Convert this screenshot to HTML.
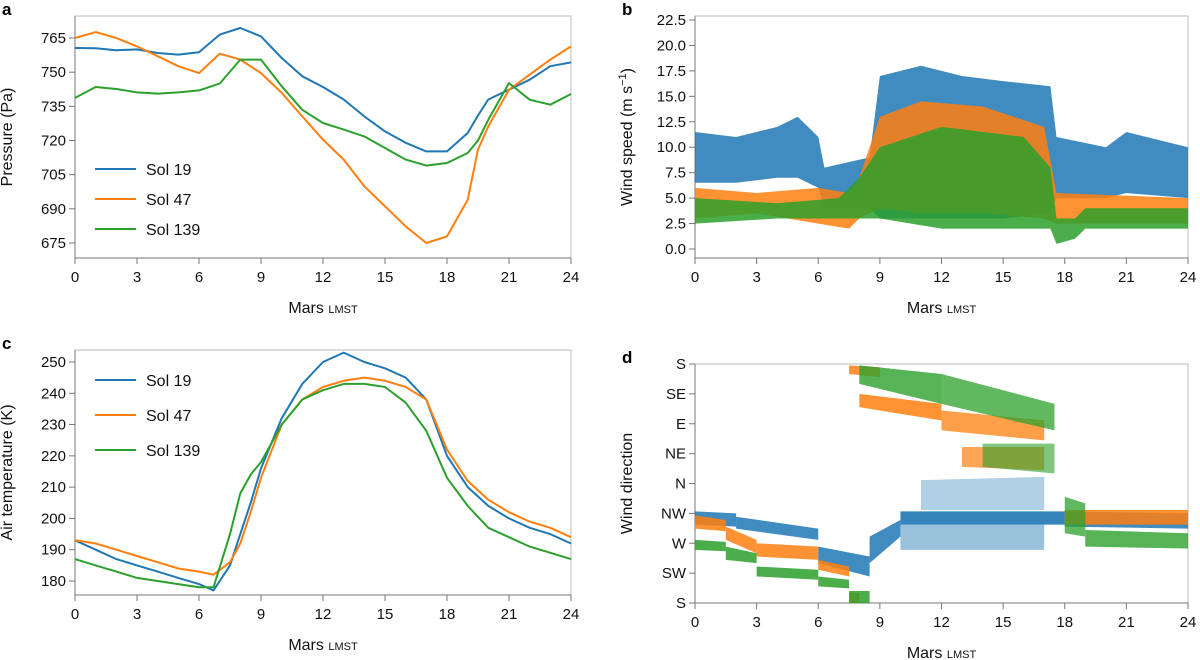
<!DOCTYPE html>
<html><head><meta charset="utf-8"><style>
body{margin:0;background:#fff;}
svg{display:block;font-family:"Liberation Sans",sans-serif;}
</style></head><body>
<svg id="fig" width="1200" height="660" viewBox="0 0 1200 660"></svg>
<script>
// ---------- Data ----------
const hoursA = [0,1,2,3,4,5,6,7,8,9,10,11,12,13,14,15,16,17,18,19,19.5,20,21,22,23,24];
const pSol19 = [760.6,760.5,759.6,760,758.4,757.7,758.7,766.5,769.4,765.7,756.2,748.2,743.5,738,730.6,724,719,715.2,715.2,723.3,731,738,742.3,746.7,752.6,754.3];
const pSol47 = [765,767.6,765,761.3,757,752.6,749.6,758.1,755.5,749.6,740.9,730.6,720.4,711.6,699.9,691.1,682.3,675,677.9,694,716,726.2,742.3,748.9,755.5,761.3];
const pSol139 = [738.7,743.5,742.6,741.1,740.6,741.1,742,745,755.5,755.5,743.8,733.5,727.7,724.8,721.8,716.7,711.6,709,710.1,714.5,720,729.1,745.2,737.9,735.7,740.4];
const pTicks = [675,690,705,720,735,750,765];

const hoursC = [0,1,2,3,4,5,6,6.7,7.5,8,8.5,9,10,11,12,13,14,15,16,17,18,19,20,21,22,23,24];
const tSol19 = [193,190,187,185,183,181,179,177,185,195,205,216,232,243,250,253,250,248,245,238,220,210,204,200,197,195,192];
const tSol47 = [193,192,190,188,186,184,183,182,186,192,202,213,230,238,242,244,245,244,242,238,222,212,206,202,199,197,194];
const tSol139 = [187,185,183,181,180,179,178,178,195,208,214,218,230,238,241,243,243,242,237,228,213,204,197,194,191,189,187];
const tTicks = [180,190,200,210,220,230,240,250];

// wind speed bands: [hour, low, high]
const wsBlue = [[0,6.5,11.5],[2,6.5,11],[4,7,12],[5,7,13],[6,6,11],[6.3,4,8],[8.5,4,9],[9,3,17],[11,3,18],[13,3,17],[15,3,16.5],[17.3,3.5,16],[17.6,5,11],[20,5,10],[21,5.5,11.5],[24,5,10]];
const wsOrange = [[0,3,6],[3,3.5,5.5],[6,2.5,6],[7.5,2,5.5],[8,3,7],[9,4,13],[11,3.5,14.5],[14,3.5,14],[17,3,12],[17.6,2.5,5.5],[24,2.5,5]];
const wsGreen = [[0,2.5,5],[4,3,4.5],[7,3,5],[8,3,7],[9,3,10],[12,2,12],[16,2,11],[17.3,2,8],[17.6,0.5,3],[18.5,1,3],[19,2,4],[24,2,4]];
const wsTicks = [0,2.5,5,7.5,10,12.5,15,17.5,20,22.5];

// wind direction bands (degrees: S=180 top ... N=0 ... S=-180 bottom): [t0,t1,top0,bot0,top1,bot1,opacity]
const wdBlue = [[0,2,-42,-62,-45,-65,0.85],[2,6,-50,-68,-68,-85,0.85],[6,8.5,-95,-120,-110,-140,0.85],[8.5,10,-80,-120,-55,-80,0.85],[10,18,-42,-62,-42,-62,0.9],[11,17,5,-40,10,-40,0.35],[10,17,-62,-100,-62,-100,0.45],[18,24,-42,-65,-45,-68,0.85]];
const wdOrange = [[0,1.5,-48,-68,-55,-72,0.85],[1.5,3,-65,-85,-85,-105,0.85],[3,6,-90,-110,-95,-115,0.85],[6,7.5,-115,-130,-125,-140,0.85],[7.5,8,-165,-180,-165,-180,0.85],[7.5,9,178,165,175,160,0.85],[8,12,135,115,120,95,0.85],[12,17,110,80,95,65,0.75],[13,17,55,25,55,20,0.7],[18,24,-40,-62,-40,-62,0.85]];
const wdGreen = [[0,1.5,-85,-100,-88,-102,0.85],[1.5,3,-95,-115,-105,-120,0.85],[3,6,-125,-140,-130,-145,0.85],[6,7.5,-140,-155,-145,-158,0.85],[7.5,8.5,-162,-180,-162,-180,0.85],[8,12,178,150,165,120,0.8],[12,17.5,165,120,120,80,0.75],[14,17.5,60,25,60,15,0.6],[18,19,-20,-75,-30,-80,0.75],[19,24,-70,-95,-75,-98,0.8]];
const wdLabels = ["S","SE","E","NE","N","NW","W","SW","S"];
const wdVals = [180,135,90,45,0,-45,-90,-135,-180];

const xTicks = [0,3,6,9,12,15,18,21,24];
const C = {blue:"#1f77b4",orange:"#ff7f0e",green:"#2ca02c"};

// ---------- Helpers ----------
const svg = document.getElementById('fig');
const NS = "http://www.w3.org/2000/svg";
function mk(tag, attrs, parent){ const e=document.createElementNS(NS,tag); for(const k in attrs) e.setAttribute(k,attrs[k]); (parent||svg).appendChild(e); return e; }
function lin(d0,d1,r0,r1){ return v => r0 + (v-d0)/(d1-d0)*(r1-r0); }

function panel(name, letter, box, xs, ys, yTicks, yLabels, yTitle){
  const g = mk('g',{});
  
  
  const fr = mk('rect',{x:box.x0,y:box.top,width:box.x1-box.x0,height:box.bot-box.top,fill:'none',stroke:'#bbb','stroke-width':1},g);
  
  
  mk('line',{x1:box.x0,y1:box.top,x2:box.x0,y2:box.bot,stroke:'#777'},g);
  mk('line',{x1:box.x0,y1:box.bot,x2:box.x1,y2:box.bot,stroke:'#777'},g);
  const L = mk('text',{x:box.x0-73,y:box.top-1,'font-size':17,'font-weight':'bold'},g);
  L.textContent = letter;
  
  
  xTicks.forEach(t=>{
    const x = xs(t);
    mk('line',{x1:x,y1:box.bot,x2:x,y2:box.bot+6,stroke:'#777'},g);
    const tx = mk('text',{x:x,y:box.bot+24,'font-size':15,'text-anchor':'middle',fill:'#111'},g);
    tx.textContent = t;
    
    
  });
  yTicks.forEach((t,i)=>{
    const y = ys(t);
    mk('line',{x1:box.x0-6,y1:y,x2:box.x0,y2:y,stroke:'#777'},g);
    const ty = mk('text',{x:box.x0-9,y:y+5,'font-size':15,'text-anchor':'end',fill:'#111'},g);
    ty.textContent = yLabels ? yLabels[i] : t;
    
    
  });
  const xt = mk('text',{x:(box.x0+box.x1)/2,y:box.bot+55,'font-size':16,'text-anchor':'middle',fill:'#111'},g);
  xt.innerHTML = 'Mars <tspan font-size="11">LMST</tspan>';
  
  
  const yy = (box.top+box.bot)/2;
  const yt = mk('text',{x:0,y:0,'font-size':16,'text-anchor':'middle',fill:'#111',transform:`translate(${box.x0-63},${yy}) rotate(-90)`},g);
  yt.innerHTML = yTitle;
  
  
  return g;
}
function line(g, xsArr, vals, xs, ys, color, name){
  const d = vals.map((v,i)=>(i?'L':'M')+xs(xsArr[i]).toFixed(1)+','+ys(v).toFixed(1)).join('');
  const p = mk('path',{d:d,fill:'none',stroke:color,'stroke-width':2,'stroke-linejoin':'round'},g);
  
  
}
function legend(g, x, y0, dy){
  [['Sol 19',C.blue],['Sol 47',C.orange],['Sol 139',C.green]].forEach((s,i)=>{
    const y = y0+i*dy;
    const ln = mk('line',{x1:x,y1:y,x2:x+41,y2:y,stroke:s[1],'stroke-width':2},g);
    
    
    const t = mk('text',{x:x+51,y:y+6,'font-size':16,fill:'#111'},g);
    t.textContent = s[0];
    
    
  });
}

// ---------- Panel a ----------
{
  const box={x0:75,x1:571,top:16,bot:258};
  const xs=lin(0,24,box.x0,box.x1), ys=lin(765,675,38,243);
  const g=panel('pressure-panel','a',box,xs,ys,pTicks,null,'Pressure (Pa)');
  line(g,hoursA,pSol19,xs,ys,C.blue,'pressure-sol19-line');
  line(g,hoursA,pSol47,xs,ys,C.orange,'pressure-sol47-line');
  line(g,hoursA,pSol139,xs,ys,C.green,'pressure-sol139-line');
  legend(g,95,169,30);
}
// ---------- Panel b ----------
{
  const box={x0:695,x1:1188,top:16,bot:258};
  const xs=lin(0,24,box.x0,box.x1), ys=lin(0,22.5,249,20);
  const g=panel('wind-speed-panel','b',box,xs,ys,wsTicks,wsTicks.map(v=>v.toFixed(1)),'Wind speed (m s<tspan baseline-shift="super" font-size="11">−1</tspan>)');
  [[wsBlue,C.blue,'wind-speed-sol19'],[wsOrange,C.orange,'wind-speed-sol47'],[wsGreen,C.green,'wind-speed-sol139']].forEach(s=>{
    const arr=s[0];
    const top=arr.map((r,i)=>(i?'L':'M')+xs(r[0]).toFixed(1)+','+ys(r[2]).toFixed(1)).join('');
    const bot=arr.slice().reverse().map(r=>'L'+xs(r[0]).toFixed(1)+','+ys(r[1]).toFixed(1)).join('');
    const p=mk('path',{d:top+bot+'Z',fill:s[1],'fill-opacity':0.85},g);
    
    
  });
}
// ---------- Panel c ----------
{
  const box={x0:75,x1:571,top:350,bot:595};
  const xs=lin(0,24,box.x0,box.x1), ys=lin(250,180,362,581);
  const g=panel('air-temperature-panel','c',box,xs,ys,tTicks,null,'Air temperature (K)');
  line(g,hoursC,tSol19,xs,ys,C.blue,'temperature-sol19-line');
  line(g,hoursC,tSol47,xs,ys,C.orange,'temperature-sol47-line');
  line(g,hoursC,tSol139,xs,ys,C.green,'temperature-sol139-line');
  legend(g,95,380,35);
}
// ---------- Panel d ----------
{
  const box={x0:695,x1:1188,top:364,bot:603};
  const xs=lin(0,24,box.x0,box.x1), ys=lin(180,-180,364,603);
  const g=panel('wind-direction-panel','d',box,xs,ys,wdVals,wdLabels,'Wind direction');
  [[wdBlue,C.blue,'wind-direction-sol19'],[wdOrange,C.orange,'wind-direction-sol47'],[wdGreen,C.green,'wind-direction-sol139']].forEach(s=>{
    s[0].forEach(r=>{
      const d=`M${xs(r[0])},${ys(r[2])}L${xs(r[1])},${ys(r[4])}L${xs(r[1])},${ys(r[5])}L${xs(r[0])},${ys(r[3])}Z`;
      const p=mk('path',{d:d,fill:s[1],'fill-opacity':r[6]},g);
      
      
    });
  });
}
</script>
</body></html>
